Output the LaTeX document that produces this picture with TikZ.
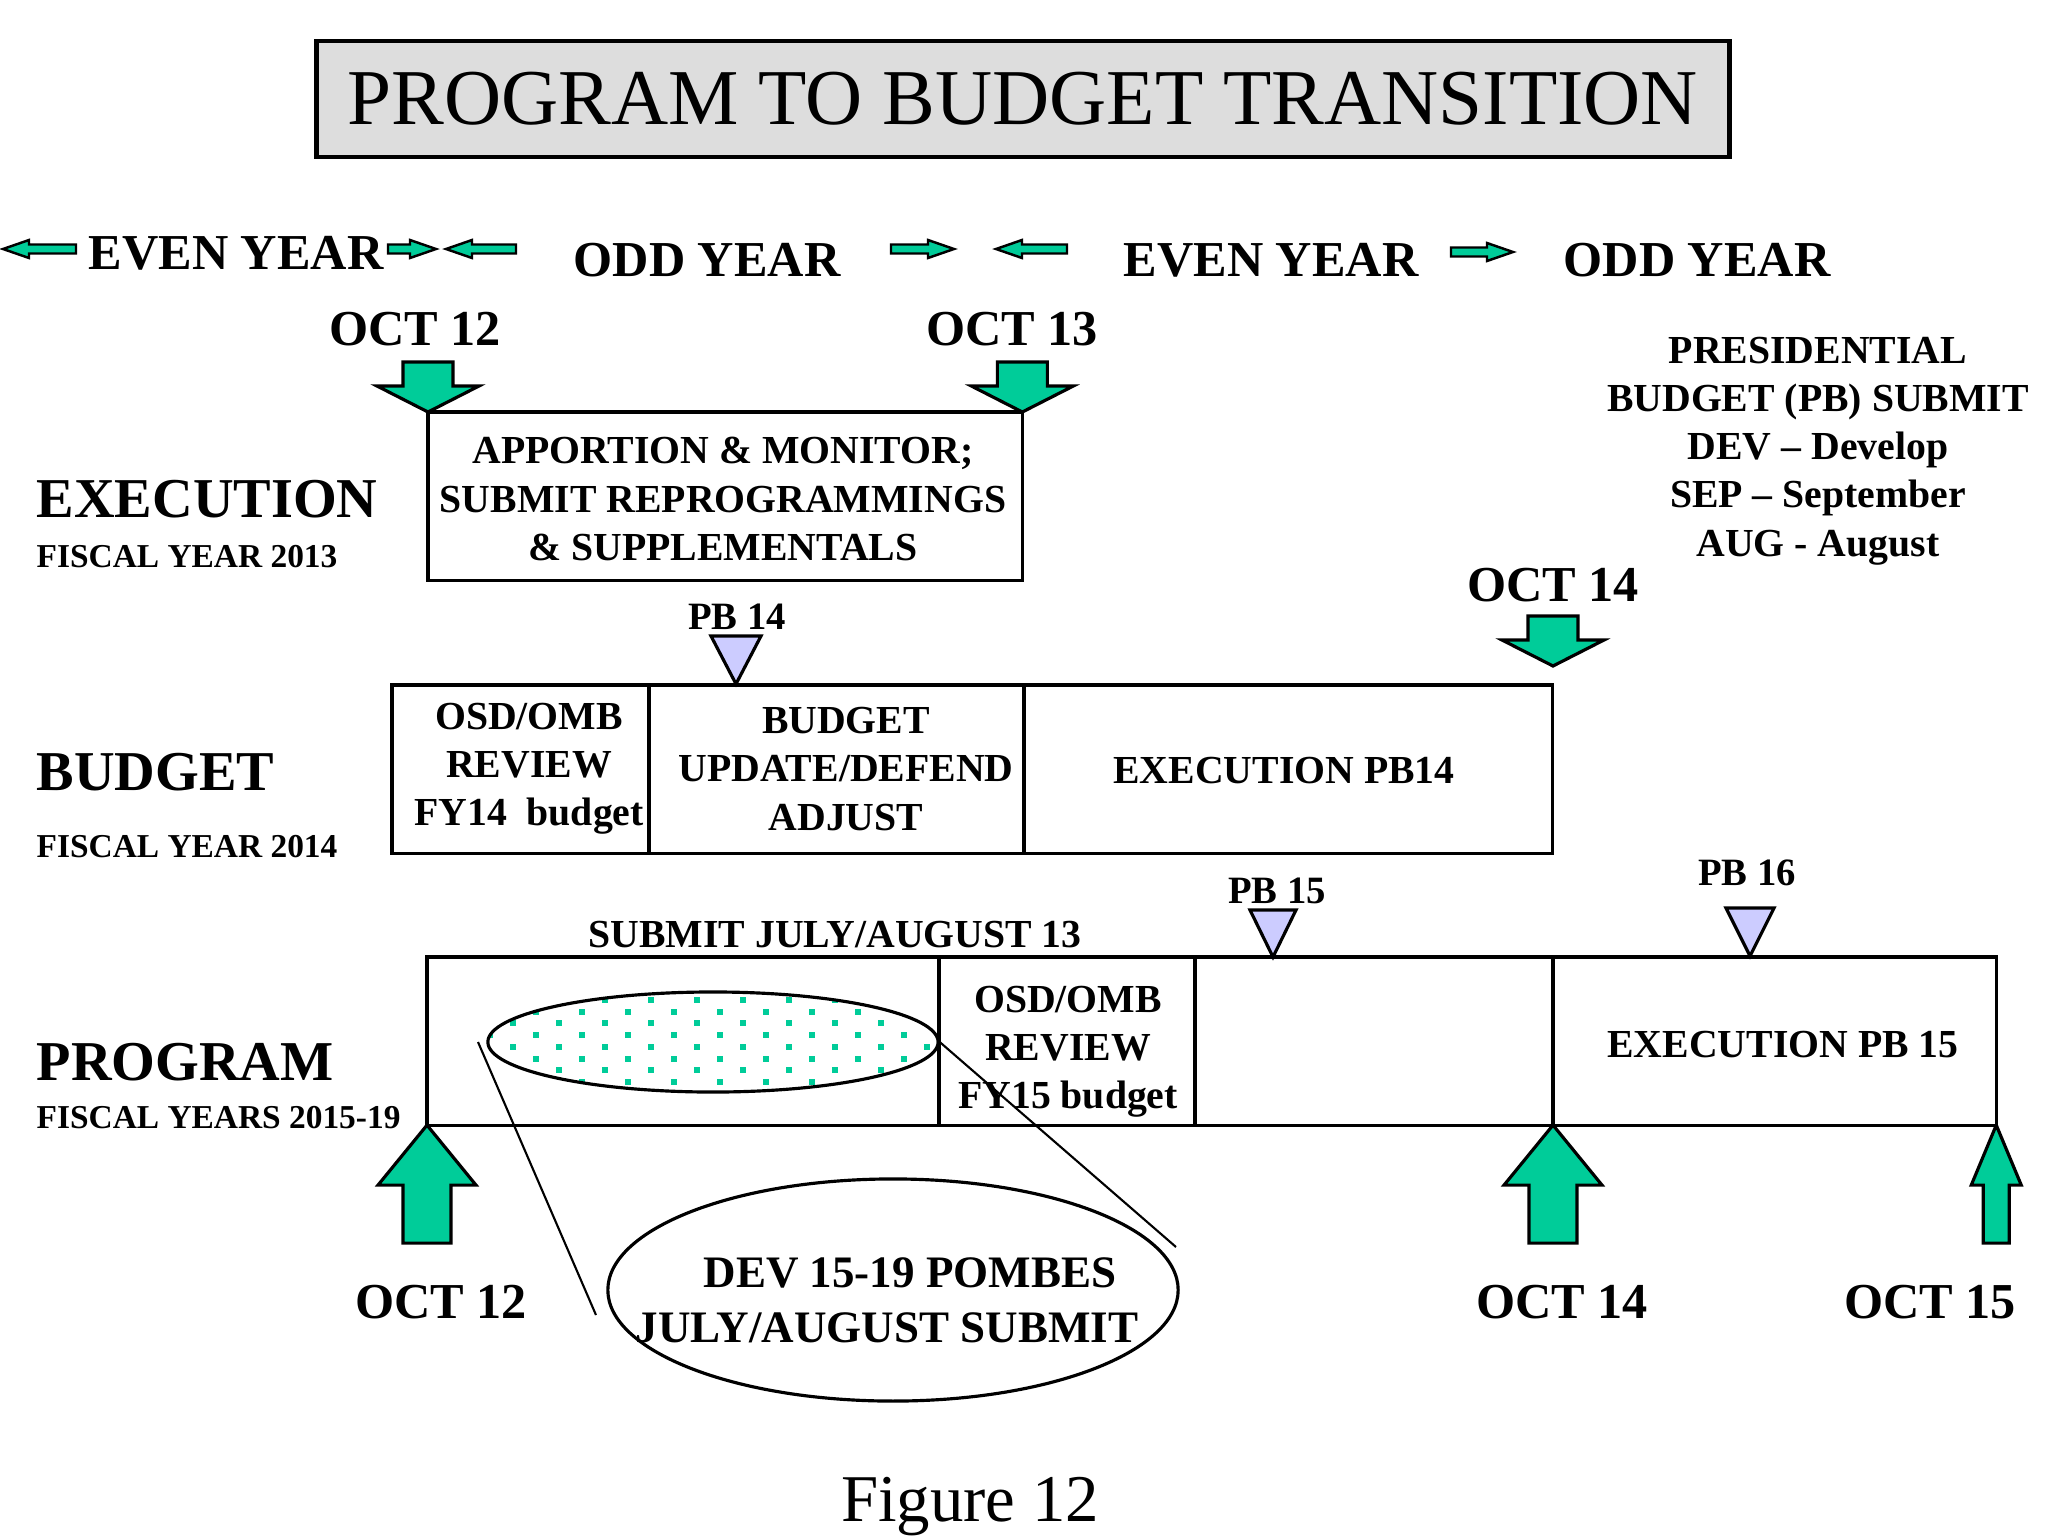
\documentclass[tikz,border=0pt]{standalone}
\usepackage{fontspec}
\setmainfont{Liberation Serif}
\usetikzlibrary{shapes.geometric}
\usetikzlibrary{calc}

\definecolor{arrowgreen}{RGB}{0,204,153}
\definecolor{pblilac}{RGB}{204,204,255}
\definecolor{titlegray}{RGB}{221,221,221}

\newcommand{\yearfont}{\bfseries\fontsize{14.3}{17}\selectfont}
\newcommand{\rowfont}{\bfseries\fontsize{16}{19}\selectfont}
\newcommand{\fyfont}{\bfseries\fontsize{9.5}{11}\selectfont}
\newcommand{\cellfont}{\bfseries\fontsize{11.3}{13.7}\selectfont}

%% block arrows, tip first
\newcommand{\arrdown}[1]{\draw[blockarrow] (#1) -- ++(-51,-26) -- ++(26,0) -- ++(0,-24) -- ++(50,0) -- ++(0,24) -- ++(26,0) -- cycle;}
\newcommand{\arrup}[3]{\draw[blockarrow] (#1) -- ++(-#2,60) -- ++(#2-#3,0) -- ++(0,58) -- ++(2*#3,0) -- ++(0,-58) -- ++(#2-#3,0) -- cycle;}
\newcommand{\arrleft}[2]{\draw[smallarrow] (#1) -- ++(26,-9) -- ++(0,4.5) -- ++(#2-26,0) -- ++(0,9) -- ++(26-#2,0) -- ++(0,4.5) -- cycle;}
\newcommand{\arrright}[2]{\draw[smallarrow] (#1) -- ++(-26,-9) -- ++(0,4.5) -- ++(26-#2,0) -- ++(0,9) -- ++(#2-26,0) -- ++(0,4.5) -- cycle;}

\begin{document}
\begin{tikzpicture}[x=0.01cm, y=-0.01cm,
    blockarrow/.style={fill=arrowgreen, draw=black, line width=0.9pt, line join=miter},
    smallarrow/.style={fill=arrowgreen, draw=black, line width=0.7pt},
    pbmark/.style={fill=pblilac, draw=black, line width=0.9pt, line join=miter},
    cell/.style={draw, rectangle, line width=0.9pt, minimum height=1.68cm, inner sep=0pt, outer sep=0pt, anchor=north west},
    lbl/.style={inner sep=0pt, align=center},
    celltext/.style={inner sep=0pt, align=center, font=\cellfont},
    zoom line/.style={line width=0.6pt},
    ]

\useasboundingbox (0,0) rectangle (2048,1536);
\fill[white] (0,0) rectangle (2048,1536);

%% title
\node[draw, fill=titlegray, line width=1.3pt, minimum width=14.12cm, minimum height=1.16cm, inner sep=0pt,
      font=\fontsize{22.5}{27}\selectfont] (title) at (1023,99) {PROGRAM TO BUDGET TRANSITION};

%% year row
\arrleft{3,249}{73}
\node[lbl, font=\yearfont] (evenA) at (236,253) {EVEN YEAR};
\arrright{436,249}{48}
\arrleft{446,249}{70}
\node[lbl, font=\yearfont] (oddA) at (707,260) {ODD YEAR};
\arrright{954,249}{63}
\arrleft{996,249}{71}
\node[lbl, font=\yearfont] (evenB) at (1271,260) {EVEN YEAR};
\arrright{1513,252}{62}
\node[lbl, font=\yearfont] (oddB) at (1697,260) {ODD YEAR};

%% legend
\node[lbl, font=\bfseries\fontsize{11.3}{13.7}\selectfont] (legend) at (1818,451)
  {PRESIDENTIAL\\BUDGET (PB) SUBMIT\\DEV -- Develop\\SEP -- September\\AUG - August};

%% row labels
\node[lbl, anchor=west, font=\rowfont] (execlbl) at (36,499) {EXECUTION};
\node[lbl, anchor=west, font=\fyfont] (execfy) at (36,557) {FISCAL YEAR 2013};
\node[lbl, anchor=west, font=\rowfont] (budlbl) at (36,772) {BUDGET};
\node[lbl, anchor=west, font=\fyfont] (budfy) at (36,847) {FISCAL YEAR 2014};
\node[lbl, anchor=west, font=\rowfont] (proglbl) at (36,1062) {PROGRAM};
\node[lbl, anchor=west, font=\fyfont] (progfy) at (36,1118) {FISCAL YEARS 2015-19};

%% execution
\node[cell, minimum width=5.94cm] (execbox) at (428,412) {};
\node[celltext] (exectext) at (723,499) {APPORTION \& MONITOR;\\SUBMIT REPROGRAMMINGS\\\& SUPPLEMENTALS};
\node[lbl, font=\yearfont] (oct12a) at (415,329) {OCT 12};
\node[lbl, font=\yearfont] (oct13a) at (1012,329) {OCT 13};
\arrdown{execbox.north west}
\arrdown{execbox.north east}

%% budget
\node[cell, minimum width=2.57cm] (budA) at (392,685) {};
\node[cell, minimum width=3.75cm] (budB) at (649,685) {};
\node[cell, minimum width=5.28cm] (budC) at (1024,685) {};
\node[celltext] (budAtext) at (529,769) {OSD/OMB\\REVIEW\\FY14~~budget};
\node[celltext] (budBtext) at (846,769) {BUDGET\\UPDATE/DEFEND\\ADJUST};
\node[celltext] (budCtext) at (1284,771) {EXECUTION PB14};
\node[lbl, font=\yearfont] (oct14a) at (1553,585) {OCT 14};
\coordinate (oct14tip) at (1553,666);
\arrdown{oct14tip}
\node[lbl, font=\bfseries\fontsize{11}{13}\selectfont] (pb14) at (737,617) {PB 14};
\coordinate (pb14tip) at (736,684);
\draw[pbmark] (pb14tip) -- ++(-25,-48) -- ++(50,0) -- cycle;

%% program
\node[cell, minimum width=5.12cm] (progA) at (427,957) {};
\node[cell, minimum width=2.56cm] (progB) at (939,957) {};
\node[cell, minimum width=3.58cm] (progC) at (1195,957) {};
\node[cell, minimum width=4.43cm] (progD) at (1553,957) {};
\node[celltext] (progBtext) at (1068,1052) {OSD/OMB\\REVIEW\\FY15 budget};
\node[celltext] (progDtext) at (1783,1045) {EXECUTION PB 15};
\node[celltext] (submit) at (835,935) {SUBMIT JULY/AUGUST 13};
\node[lbl, font=\bfseries\fontsize{11}{13}\selectfont] (pb15) at (1277,891) {PB 15};
\node[lbl, font=\bfseries\fontsize{11}{13}\selectfont] (pb16) at (1747,873) {PB 16};
\coordinate (pb15tip) at (1273,957);
\coordinate (pb16tip) at (1750,956);
\draw[pbmark] (pb15tip) -- ++(-23,-47) -- ++(46,0) -- cycle;
\draw[pbmark] (pb16tip) -- ++(-24,-48) -- ++(48,0) -- cycle;

%% dotted oval
\begin{scope}
  \clip (713,1042) ellipse [x radius=2.24cm, y radius=0.49cm];
  \foreach \j in {0,...,7} {
    \pgfmathsetmacro{\yy}{997+11.7*\j}
    \pgfmathsetmacro{\off}{mod(\j,2)*23}
    \foreach \i in {0,...,10} {
      \fill[arrowgreen] (464+\off+46*\i,\yy) rectangle ++(6,6);
    }
  }
\end{scope}
\node[draw, ellipse, line width=0.9pt, minimum width=4.5cm, minimum height=1.0cm, inner sep=0pt] (dotoval) at (713,1042) {};

%% up arrows
\arrup{progA.south west}{49}{24}
\arrup{progD.south west}{49}{24}
\arrup{progD.south east}{25}{13}
\node[lbl, font=\yearfont] (oct12b) at (441,1302) {OCT 12};
\node[lbl, font=\yearfont] (oct14b) at (1562,1302) {OCT 14};
\node[lbl, font=\yearfont] (oct15b) at (1930,1302) {OCT 15};

%% zoomed oval
\node[draw, ellipse, line width=0.9pt, minimum width=5.7cm, minimum height=2.22cm, inner sep=0pt] (bigoval) at (893,1290) {};
\node[lbl, font=\bfseries\fontsize{12.8}{15.6}\selectfont] (ovaltop) at (910,1273) {DEV 15-19 POMBES};
\node[lbl, font=\bfseries\fontsize{12.8}{15.6}\selectfont] (ovalbot) at (887,1328) {JULY/AUGUST SUBMIT};
\coordinate (zoomL) at (478,1042);
\coordinate (zoomLend) at (596,1315);
\coordinate (zoomRend) at (1176,1247);
\draw[zoom line] (zoomL) -- (zoomLend);
\draw[zoom line] (dotoval.east) -- (zoomRend);

%% caption
\node[anchor=base, inner sep=0pt, font=\fontsize{19}{23}\selectfont] (figcap) at (970,1521) {Figure 12};

\end{tikzpicture}
\end{document}
